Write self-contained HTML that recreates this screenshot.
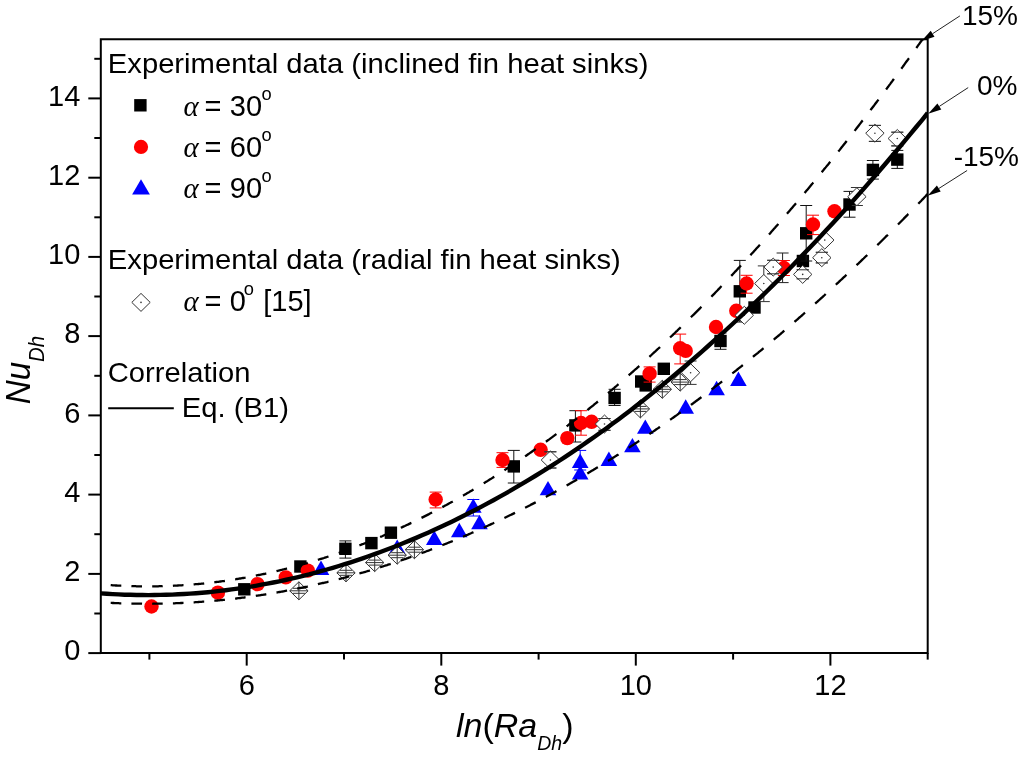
<!DOCTYPE html>
<html lang="en"><head><meta charset="utf-8"><title>Nu vs ln(Ra)</title>
<style>html,body{margin:0;padding:0;background:#fff}body{width:1024px;height:758px;overflow:hidden}</style></head>
<body>
<svg width="1024" height="758" viewBox="0 0 1024 758" style="display:block">
<rect width="1024" height="758" fill="#fff"/>
<defs><clipPath id="cp"><rect x="100.8" y="39.3" width="826.9" height="613.8"/></clipPath></defs>
<g stroke="#000" stroke-width="2" fill="none" stroke-linecap="butt">
<path d="M100.8 39.3 H927.7 V653.1 H100.8 Z"/>
<path d="M88.3 653.1 H100.8"/>
<path d="M94.3 613.5 H100.8"/>
<path d="M88.3 573.9 H100.8"/>
<path d="M94.3 534.2 H100.8"/>
<path d="M88.3 494.6 H100.8"/>
<path d="M94.3 455.0 H100.8"/>
<path d="M88.3 415.4 H100.8"/>
<path d="M94.3 375.8 H100.8"/>
<path d="M88.3 336.1 H100.8"/>
<path d="M94.3 296.5 H100.8"/>
<path d="M88.3 256.9 H100.8"/>
<path d="M94.3 217.3 H100.8"/>
<path d="M88.3 177.7 H100.8"/>
<path d="M94.3 138.0 H100.8"/>
<path d="M88.3 98.4 H100.8"/>
<path d="M94.3 58.8 H100.8"/>
<path d="M149.4 653.1 V659.6"/>
<path d="M246.7 653.1 V665.6"/>
<path d="M344.0 653.1 V659.6"/>
<path d="M441.3 653.1 V665.6"/>
<path d="M538.6 653.1 V659.6"/>
<path d="M635.8 653.1 V665.6"/>
<path d="M733.1 653.1 V659.6"/>
<path d="M830.4 653.1 V665.6"/>
<path d="M927.7 653.1 V659.6"/>
</g>
<g clip-path="url(#cp)">
<rect x="238.1" y="583.1" width="12.4" height="12.4" fill="#000"/>
<rect x="294.2" y="560.3" width="12.4" height="12.4" fill="#000"/>
<path d="M345.4 540.9 V558.1 M339.4 540.9 H351.4 M339.4 558.1 H351.4" stroke="#111" stroke-width="1" fill="none"/>
<rect x="339.2" y="542.6" width="12.4" height="12.4" fill="#000"/>
<rect x="365.2" y="536.9" width="12.4" height="12.4" fill="#000"/>
<rect x="384.7" y="526.5" width="12.4" height="12.4" fill="#000"/>
<path d="M513.8 450.4 V483.0 M507.8 450.4 H519.8 M507.8 483.0 H519.8" stroke="#111" stroke-width="1" fill="none"/>
<rect x="507.6" y="460.2" width="12.4" height="12.4" fill="#000"/>
<path d="M575.4 410.7 V442.0 M569.4 410.7 H581.4 M569.4 442.0 H581.4" stroke="#111" stroke-width="1" fill="none"/>
<rect x="569.2" y="419.2" width="12.4" height="12.4" fill="#000"/>
<path d="M614.6 389.3 V405.5 M608.6 389.3 H620.6 M608.6 405.5 H620.6" stroke="#111" stroke-width="1" fill="none"/>
<rect x="608.4" y="391.8" width="12.4" height="12.4" fill="#000"/>
<rect x="635.0" y="375.3" width="12.4" height="12.4" fill="#000"/>
<rect x="639.5" y="379.2" width="12.4" height="12.4" fill="#000"/>
<rect x="657.6" y="362.6" width="12.4" height="12.4" fill="#000"/>
<path d="M720.5 333.0 V349.3 M714.5 333.0 H726.5 M714.5 349.3 H726.5" stroke="#111" stroke-width="1" fill="none"/>
<rect x="714.3" y="334.8" width="12.4" height="12.4" fill="#000"/>
<path d="M739.8 260.4 V322.0 M733.8 260.4 H745.8 M733.8 322.0 H745.8" stroke="#111" stroke-width="1" fill="none"/>
<rect x="733.6" y="285.1" width="12.4" height="12.4" fill="#000"/>
<rect x="748.3" y="301.3" width="12.4" height="12.4" fill="#000"/>
<rect x="796.7" y="254.8" width="12.4" height="12.4" fill="#000"/>
<path d="M806.2 205.5 V261.0 M800.2 205.5 H812.2 M800.2 261.0 H812.2" stroke="#111" stroke-width="1" fill="none"/>
<rect x="800.0" y="227.1" width="12.4" height="12.4" fill="#000"/>
<path d="M849.5 191.4 V217.2 M843.5 191.4 H855.5 M843.5 217.2 H855.5" stroke="#111" stroke-width="1" fill="none"/>
<rect x="843.3" y="198.3" width="12.4" height="12.4" fill="#000"/>
<path d="M872.9 160.5 V179.1 M866.9 160.5 H878.9 M866.9 179.1 H878.9" stroke="#111" stroke-width="1" fill="none"/>
<rect x="866.7" y="163.7" width="12.4" height="12.4" fill="#000"/>
<path d="M897.3 150.4 V168.4 M891.3 150.4 H903.3 M891.3 168.4 H903.3" stroke="#111" stroke-width="1" fill="none"/>
<rect x="891.1" y="153.4" width="12.4" height="12.4" fill="#000"/>
<path d="M782.6 253.0 V282.6 M776.6 253.0 H788.6 M776.6 282.6 H788.6" stroke="#222" stroke-width="1" fill="none"/>
<circle cx="151.5" cy="606.5" r="7.2" fill="#f00"/>
<circle cx="217.9" cy="592.7" r="7.2" fill="#f00"/>
<circle cx="257.5" cy="584.1" r="7.2" fill="#f00"/>
<circle cx="285.8" cy="577.4" r="7.2" fill="#f00"/>
<circle cx="307.8" cy="570.6" r="7.2" fill="#f00"/>
<path d="M435.7 492.1 V507.9 M429.7 492.1 H441.7 M429.7 507.9 H441.7" stroke="#f00" stroke-width="1" fill="none"/>
<circle cx="435.7" cy="499.5" r="7.2" fill="#f00"/>
<path d="M502.5 452.7 V467.4 M496.5 452.7 H508.5 M496.5 467.4 H508.5" stroke="#f00" stroke-width="1" fill="none"/>
<circle cx="502.5" cy="460.0" r="7.2" fill="#f00"/>
<circle cx="540.6" cy="449.8" r="7.2" fill="#f00"/>
<circle cx="567.3" cy="438.1" r="7.2" fill="#f00"/>
<path d="M581.0 410.7 V435.2 M575.0 410.7 H587.0 M575.0 435.2 H587.0" stroke="#f00" stroke-width="1" fill="none"/>
<circle cx="581.0" cy="423.0" r="7.2" fill="#f00"/>
<circle cx="591.6" cy="421.8" r="7.2" fill="#f00"/>
<path d="M649.6 366.9 V382.1 M643.6 366.9 H655.6 M643.6 382.1 H655.6" stroke="#f00" stroke-width="1" fill="none"/>
<circle cx="649.6" cy="373.7" r="7.2" fill="#f00"/>
<path d="M680.2 334.1 V363.9 M674.2 334.1 H686.2 M674.2 363.9 H686.2" stroke="#f00" stroke-width="1" fill="none"/>
<circle cx="680.2" cy="348.3" r="7.2" fill="#f00"/>
<circle cx="685.7" cy="350.9" r="7.2" fill="#f00"/>
<circle cx="716.0" cy="327.0" r="7.2" fill="#f00"/>
<circle cx="736.3" cy="310.8" r="7.2" fill="#f00"/>
<path d="M746.6 275.3 V293.2 M740.6 275.3 H752.6 M740.6 293.2 H752.6" stroke="#f00" stroke-width="1" fill="none"/>
<circle cx="746.6" cy="283.5" r="7.2" fill="#f00"/>
<path d="M783.9 260.5 V275.5 M777.9 260.5 H789.9 M777.9 275.5 H789.9" stroke="#f00" stroke-width="1" fill="none"/>
<circle cx="783.9" cy="268.0" r="7.2" fill="#f00"/>
<path d="M813.0 215.2 V234.6 M807.0 215.2 H819.0 M807.0 234.6 H819.0" stroke="#f00" stroke-width="1" fill="none"/>
<circle cx="813.0" cy="224.5" r="7.2" fill="#f00"/>
<circle cx="834.5" cy="211.3" r="7.2" fill="#f00"/>
<path d="M321.0 560.5 L329.3 574.9 L312.7 574.9 Z" fill="#00f"/>
<path d="M397.2 539.4 L405.5 553.8 L388.9 553.8 Z" fill="#00f"/>
<path d="M434.3 530.6 L442.6 545.0 L426.0 545.0 Z" fill="#00f"/>
<path d="M459.3 522.8 L467.6 537.2 L451.0 537.2 Z" fill="#00f"/>
<path d="M473.3 499.5 V516.0 M467.3 499.5 H479.3 M467.3 516.0 H479.3" stroke="#00f" stroke-width="1" fill="none"/>
<path d="M473.3 498.4 L481.6 512.8 L465.0 512.8 Z" fill="#00f"/>
<path d="M479.5 514.8 L487.8 529.2 L471.2 529.2 Z" fill="#00f"/>
<path d="M548.0 480.9 L556.3 495.3 L539.7 495.3 Z" fill="#00f"/>
<path d="M580.2 450.4 V470.0 M574.2 450.4 H586.2 M574.2 470.0 H586.2" stroke="#00f" stroke-width="1" fill="none"/>
<path d="M580.2 453.5 L588.5 467.9 L571.9 467.9 Z" fill="#00f"/>
<path d="M580.2 465.2 L588.5 479.6 L571.9 479.6 Z" fill="#00f"/>
<path d="M608.9 451.6 L617.2 466.0 L600.6 466.0 Z" fill="#00f"/>
<path d="M632.4 437.9 L640.7 452.3 L624.1 452.3 Z" fill="#00f"/>
<path d="M645.3 419.4 L653.6 433.8 L637.0 433.8 Z" fill="#00f"/>
<path d="M685.7 399.3 L694.0 413.7 L677.4 413.7 Z" fill="#00f"/>
<path d="M716.6 380.8 L724.9 395.2 L708.3 395.2 Z" fill="#00f"/>
<path d="M738.4 371.6 L746.7 386.0 L730.1 386.0 Z" fill="#00f"/>
<path d="M298.9 581.8 L308.1 590.8 L298.9 599.8 L289.7 590.8 Z" fill="#fff" stroke="#333" stroke-width="1"/>
<path d="M298.9 581.8 V599.8 M289.9 590.8 H307.9 M292.9 588.3 H304.9 M292.9 593.3 H304.9" stroke="#333" stroke-width="1" fill="none"/>
<path d="M346.0 563.8 L355.2 572.8 L346.0 581.8 L336.8 572.8 Z" fill="#fff" stroke="#333" stroke-width="1"/>
<path d="M346.0 563.8 V581.8 M337.0 572.8 H355.0 M340.0 570.3 H352.0 M340.0 575.3 H352.0" stroke="#333" stroke-width="1" fill="none"/>
<path d="M374.7 553.6 L383.9 562.6 L374.7 571.6 L365.5 562.6 Z" fill="#fff" stroke="#333" stroke-width="1"/>
<path d="M374.7 553.6 V571.6 M365.7 562.6 H383.7 M368.7 560.1 H380.7 M368.7 565.1 H380.7" stroke="#333" stroke-width="1" fill="none"/>
<path d="M397.2 546.2 L406.4 555.2 L397.2 564.2 L388.0 555.2 Z" fill="#fff" stroke="#333" stroke-width="1"/>
<path d="M397.2 546.2 V564.2 M388.2 555.2 H406.2 M391.2 552.7 H403.2 M391.2 557.7 H403.2" stroke="#333" stroke-width="1" fill="none"/>
<path d="M414.4 540.7 L423.6 549.7 L414.4 558.7 L405.2 549.7 Z" fill="#fff" stroke="#333" stroke-width="1"/>
<path d="M414.4 540.7 V558.7 M405.4 549.7 H423.4 M408.4 547.2 H420.4 M408.4 552.2 H420.4" stroke="#333" stroke-width="1" fill="none"/>
<path d="M550.4 451.8 V468.0 M544.4 451.8 H556.4 M544.4 468.0 H556.4" stroke="#333" stroke-width="1" fill="none"/>
<path d="M550.4 451.0 L559.6 460.0 L550.4 469.0 L541.2 460.0 Z" fill="#fff" stroke="#333" stroke-width="1"/>
<path d="M544.4 451.8 H556.4 M544.4 468.0 H556.4" stroke="#333" stroke-width="1" fill="none"/>
<circle cx="550.4" cy="460.0" r="0.8" fill="#333"/>
<path d="M604.5 418.5 V430.3 M598.5 418.5 H610.5 M598.5 430.3 H610.5" stroke="#333" stroke-width="1" fill="none"/>
<path d="M604.5 415.0 L613.7 424.0 L604.5 433.0 L595.3 424.0 Z" fill="#fff" stroke="#333" stroke-width="1"/>
<path d="M598.5 418.5 H610.5 M598.5 430.3 H610.5" stroke="#333" stroke-width="1" fill="none"/>
<circle cx="604.5" cy="424.0" r="0.8" fill="#333"/>
<path d="M640.4 399.9 L649.6 408.9 L640.4 417.9 L631.2 408.9 Z" fill="#fff" stroke="#333" stroke-width="1"/>
<path d="M640.4 399.9 V417.9 M631.4 408.9 H649.4 M634.4 406.4 H646.4 M634.4 411.4 H646.4" stroke="#333" stroke-width="1" fill="none"/>
<path d="M662.3 380.3 L671.5 389.3 L662.3 398.3 L653.1 389.3 Z" fill="#fff" stroke="#333" stroke-width="1"/>
<path d="M662.3 380.3 V398.3 M653.3 389.3 H671.3 M656.3 386.8 H668.3 M656.3 391.8 H668.3" stroke="#333" stroke-width="1" fill="none"/>
<path d="M680.2 373.1 L689.4 382.1 L680.2 391.1 L671.0 382.1 Z" fill="#fff" stroke="#333" stroke-width="1"/>
<path d="M680.2 373.1 V391.1 M671.2 382.1 H689.2 M674.2 379.6 H686.2 M674.2 384.6 H686.2" stroke="#333" stroke-width="1" fill="none"/>
<path d="M690.6 361.0 V384.4 M684.6 361.0 H696.6 M684.6 384.4 H696.6" stroke="#333" stroke-width="1" fill="none"/>
<path d="M690.6 363.7 L699.8 372.7 L690.6 381.7 L681.4 372.7 Z" fill="#fff" stroke="#333" stroke-width="1"/>
<circle cx="690.6" cy="372.7" r="0.8" fill="#333"/>
<path d="M744.3 306.3 L753.5 315.3 L744.3 324.3 L735.1 315.3 Z" fill="#fff" stroke="#333" stroke-width="1"/>
<circle cx="744.3" cy="315.3" r="0.8" fill="#333"/>
<path d="M763.8 265.9 V301.6 M757.8 265.9 H769.8 M757.8 301.6 H769.8" stroke="#333" stroke-width="1" fill="none"/>
<path d="M763.8 274.5 L773.0 283.5 L763.8 292.5 L754.6 283.5 Z" fill="#fff" stroke="#333" stroke-width="1"/>
<circle cx="763.8" cy="283.5" r="0.8" fill="#333"/>
<path d="M773.2 260.3 V273.8 M767.2 260.3 H779.2 M767.2 273.8 H779.2" stroke="#333" stroke-width="1" fill="none"/>
<path d="M773.2 258.1 L782.4 267.1 L773.2 276.1 L764.0 267.1 Z" fill="#fff" stroke="#333" stroke-width="1"/>
<path d="M767.2 260.3 H779.2 M767.2 273.8 H779.2" stroke="#333" stroke-width="1" fill="none"/>
<circle cx="773.2" cy="267.1" r="0.8" fill="#333"/>
<path d="M802.7 269.8 V278.8 M796.7 269.8 H808.7 M796.7 278.8 H808.7" stroke="#333" stroke-width="1" fill="none"/>
<path d="M802.7 265.4 L811.9 274.4 L802.7 283.4 L793.5 274.4 Z" fill="#fff" stroke="#333" stroke-width="1"/>
<path d="M796.7 269.8 H808.7 M796.7 278.8 H808.7" stroke="#333" stroke-width="1" fill="none"/>
<circle cx="802.7" cy="274.4" r="0.8" fill="#333"/>
<path d="M821.8 252.3 V262.9 M815.8 252.3 H827.8 M815.8 262.9 H827.8" stroke="#333" stroke-width="1" fill="none"/>
<path d="M821.8 248.7 L831.0 257.7 L821.8 266.7 L812.6 257.7 Z" fill="#fff" stroke="#333" stroke-width="1"/>
<path d="M815.8 252.3 H827.8 M815.8 262.9 H827.8" stroke="#333" stroke-width="1" fill="none"/>
<circle cx="821.8" cy="257.7" r="0.8" fill="#333"/>
<path d="M824.8 231.1 L834.0 240.1 L824.8 249.1 L815.6 240.1 Z" fill="#fff" stroke="#333" stroke-width="1"/>
<circle cx="824.8" cy="240.1" r="0.8" fill="#333"/>
<path d="M856.9 187.5 V205.5 M850.9 187.5 H862.9 M850.9 205.5 H862.9" stroke="#333" stroke-width="1" fill="none"/>
<path d="M856.9 187.7 L866.1 196.7 L856.9 205.7 L847.7 196.7 Z" fill="#fff" stroke="#333" stroke-width="1"/>
<circle cx="856.9" cy="196.7" r="0.8" fill="#333"/>
<path d="M874.9 125.4 V141.4 M868.9 125.4 H880.9 M868.9 141.4 H880.9" stroke="#333" stroke-width="1" fill="none"/>
<path d="M874.9 124.2 L884.1 133.2 L874.9 142.2 L865.7 133.2 Z" fill="#fff" stroke="#333" stroke-width="1"/>
<path d="M868.9 125.4 H880.9 M868.9 141.4 H880.9" stroke="#333" stroke-width="1" fill="none"/>
<circle cx="874.9" cy="133.2" r="0.8" fill="#333"/>
<path d="M897.3 132.2 V145.9 M891.3 132.2 H903.3 M891.3 145.9 H903.3" stroke="#333" stroke-width="1" fill="none"/>
<path d="M897.3 129.5 L906.5 138.5 L897.3 147.5 L888.1 138.5 Z" fill="#fff" stroke="#333" stroke-width="1"/>
<path d="M891.3 132.2 H903.3 M891.3 145.9 H903.3" stroke="#333" stroke-width="1" fill="none"/>
<circle cx="897.3" cy="138.5" r="0.8" fill="#333"/>
<path d="M110.7 585.1 L111.7 585.2 L112.7 585.3 L113.7 585.3 L114.7 585.4 L115.7 585.5 L116.7 585.5 L117.7 585.6 L118.7 585.6 L119.7 585.7 L120.7 585.7 L121.3 585.7M131.4 586.1 L132.5 586.2 L133.5 586.2 L134.5 586.2 L135.5 586.2 L136.5 586.3 L137.5 586.3 L138.5 586.3 L139.5 586.3 L140.5 586.3 L141.5 586.3 L142.0 586.3M152.2 586.3 L153.2 586.3 L154.2 586.3 L155.2 586.3 L156.2 586.3 L157.2 586.3 L158.2 586.3 L159.2 586.2 L160.2 586.2 L161.2 586.2 L162.2 586.2 L162.7 586.1M172.9 585.8 L173.9 585.7 L174.9 585.7 L175.9 585.6 L176.9 585.6 L177.9 585.5 L178.9 585.4 L179.9 585.4 L180.9 585.3 L181.9 585.3 L182.9 585.2 L183.5 585.2M193.6 584.4 L194.6 584.3 L195.6 584.2 L196.6 584.1 L197.6 584.1 L198.6 584.0 L199.6 583.9 L200.6 583.8 L201.6 583.7 L202.6 583.6 L203.6 583.5 L204.2 583.4M214.3 582.3 L215.3 582.1 L216.3 582.0 L217.3 581.9 L218.3 581.8 L219.3 581.6 L220.3 581.5 L221.3 581.4 L222.3 581.2 L223.3 581.1 L224.3 581.0 L224.9 580.9M235.1 579.3 L236.1 579.2 L237.1 579.0 L238.1 578.9 L239.1 578.7 L240.1 578.5 L241.1 578.4 L242.1 578.2 L243.1 578.0 L244.1 577.8 L245.1 577.7 L245.6 577.6M255.8 575.6 L256.8 575.4 L257.8 575.2 L258.8 575.0 L259.8 574.8 L260.8 574.6 L261.8 574.4 L262.8 574.2 L263.8 574.0 L264.8 573.8 L265.8 573.6 L266.3 573.5M276.5 571.2 L277.5 570.9 L278.5 570.7 L279.5 570.4 L280.5 570.2 L281.5 570.0 L282.5 569.7 L283.5 569.5 L284.5 569.2 L285.5 569.0 L286.5 568.7 L287.1 568.6M297.2 565.9 L298.2 565.6 L299.2 565.3 L300.2 565.1 L301.2 564.8 L302.2 564.5 L303.2 564.2 L304.2 563.9 L305.2 563.7 L306.2 563.4 L307.2 563.1 L307.8 562.9M317.9 559.9 L318.9 559.5 L319.9 559.2 L320.9 558.9 L321.9 558.6 L322.9 558.3 L323.9 558.0 L324.9 557.6 L325.9 557.3 L326.9 557.0 L327.9 556.7 L328.5 556.5M338.7 553.0 L339.7 552.7 L340.7 552.3 L341.7 552.0 L342.7 551.6 L343.7 551.2 L344.7 550.9 L345.7 550.5 L346.7 550.2 L347.7 549.8 L348.7 549.4 L349.2 549.2M359.4 545.4 L360.4 545.0 L361.4 544.6 L362.4 544.2 L363.4 543.9 L364.4 543.5 L365.4 543.1 L366.4 542.7 L367.4 542.3 L368.4 541.9 L369.4 541.5 L369.9 541.2M380.1 537.0 L381.1 536.6 L382.1 536.2 L383.1 535.7 L384.1 535.3 L385.1 534.9 L386.1 534.4 L387.1 534.0 L388.1 533.6 L389.1 533.1 L390.1 532.7 L390.7 532.4M400.8 527.8 L401.8 527.4 L402.8 526.9 L403.8 526.4 L404.8 526.0 L405.8 525.5 L406.8 525.0 L407.8 524.6 L408.8 524.1 L409.8 523.6 L410.8 523.1 L411.4 522.9M421.5 517.9 L422.5 517.4 L423.5 516.9 L424.5 516.4 L425.5 515.9 L426.5 515.4 L427.5 514.9 L428.5 514.4 L429.5 513.8 L430.5 513.3 L431.5 512.8 L432.1 512.5M442.3 507.1 L443.3 506.6 L444.3 506.1 L445.3 505.5 L446.3 505.0 L447.3 504.4 L448.3 503.9 L449.3 503.3 L450.3 502.8 L451.3 502.2 L452.3 501.7 L452.8 501.4M463.0 495.6 L464.0 495.1 L465.0 494.5 L466.0 493.9 L467.0 493.3 L468.0 492.7 L469.0 492.2 L470.0 491.6 L471.0 491.0 L472.0 490.4 L473.0 489.8 L473.5 489.5M483.7 483.3 L484.7 482.7 L485.7 482.1 L486.7 481.5 L487.7 480.9 L488.7 480.2 L489.7 479.6 L490.7 479.0 L491.7 478.4 L492.7 477.7 L493.7 477.1 L494.3 476.8M504.4 470.3 L505.4 469.6 L506.4 468.9 L507.4 468.3 L508.4 467.6 L509.4 467.0 L510.4 466.3 L511.4 465.7 L512.4 465.0 L513.4 464.3 L514.4 463.7 L515.0 463.3M525.1 456.4 L526.1 455.7 L527.1 455.0 L528.1 454.3 L529.1 453.6 L530.1 452.9 L531.1 452.2 L532.1 451.5 L533.1 450.8 L534.1 450.1 L535.1 449.4 L535.7 449.0M545.9 441.7 L546.9 441.0 L547.9 440.3 L548.9 439.6 L549.9 438.8 L550.9 438.1 L551.9 437.4 L552.9 436.6 L553.9 435.9 L554.9 435.1 L555.9 434.4 L556.4 434.0M566.6 426.3 L567.6 425.6 L568.6 424.8 L569.6 424.0 L570.6 423.3 L571.6 422.5 L572.6 421.7 L573.6 420.9 L574.6 420.2 L575.6 419.4 L576.6 418.6 L577.1 418.2M587.3 410.1 L588.3 409.3 L589.3 408.5 L590.3 407.7 L591.3 406.9 L592.3 406.1 L593.3 405.3 L594.3 404.4 L595.3 403.6 L596.3 402.8 L597.3 402.0 L597.9 401.5M608.0 393.1 L609.0 392.3 L610.0 391.4 L611.0 390.6 L612.0 389.8 L613.0 388.9 L614.0 388.1 L615.0 387.2 L616.0 386.4 L617.0 385.5 L618.0 384.6 L618.5 384.2M628.7 375.3 L629.7 374.4 L630.7 373.6 L631.7 372.7 L632.7 371.8 L633.7 370.9 L634.7 370.0 L635.7 369.1 L636.7 368.3 L637.7 367.4 L638.7 366.5 L639.3 366.0M649.4 356.8 L650.4 355.9 L651.4 355.0 L652.4 354.0 L653.4 353.1 L654.4 352.2 L655.4 351.3 L656.4 350.3 L657.4 349.4 L658.4 348.5 L659.4 347.6 L660.0 347.0M670.1 337.5 L671.1 336.5 L672.1 335.6 L673.1 334.6 L674.1 333.7 L675.1 332.7 L676.1 331.7 L677.1 330.8 L678.1 329.8 L679.1 328.8 L680.1 327.9 L680.7 327.3M690.9 317.3 L691.9 316.3 L692.9 315.3 L693.9 314.4 L694.9 313.4 L695.9 312.4 L696.9 311.4 L697.9 310.4 L698.9 309.4 L699.9 308.4 L700.9 307.3 L701.4 306.8M711.4 296.7 L712.4 295.6 L713.4 294.6 L714.4 293.6 L715.4 292.5 L716.4 291.5 L717.4 290.5 L718.4 289.4 L719.4 288.4 L720.4 287.3 L721.4 286.3 L721.6 286.1M731.2 275.9 L732.2 274.9 L733.2 273.8 L734.2 272.7 L735.2 271.6 L736.2 270.6 L737.2 269.5 L738.2 268.4 L739.2 267.4 L740.2 266.3 L741.0 265.4M750.4 255.2 L751.4 254.1 L752.4 253.0 L753.4 251.9 L754.4 250.8 L755.4 249.7 L756.4 248.6 L757.4 247.5 L758.4 246.4 L759.4 245.3 L759.9 244.7M769.0 234.5 L770.0 233.4 L771.0 232.2 L772.0 231.1 L773.0 229.9 L774.0 228.8 L775.0 227.7 L776.0 226.5 L777.0 225.4 L778.0 224.2 L778.2 223.9M787.0 213.8 L788.0 212.6 L789.0 211.4 L790.0 210.3 L791.0 209.1 L792.0 207.9 L793.0 206.7 L794.0 205.6 L795.0 204.4 L796.0 203.3M804.6 193.0 L805.6 191.8 L806.6 190.6 L807.6 189.4 L808.6 188.2 L809.6 187.0 L810.6 185.8 L811.6 184.6 L812.6 183.4 L813.3 182.5M821.7 172.3 L822.7 171.1 L823.7 169.8 L824.7 168.6 L825.7 167.4 L826.7 166.1 L827.7 164.9 L828.7 163.7 L829.7 162.4 L830.2 161.8M838.3 151.6 L839.3 150.4 L840.3 149.1 L841.3 147.8 L842.3 146.6 L843.3 145.3 L844.3 144.0 L845.3 142.8 L846.3 141.5 L846.7 141.0M854.6 130.9 L855.6 129.6 L856.6 128.3 L857.6 127.0 L858.6 125.7 L859.6 124.4 L860.6 123.1 L861.6 121.8 L862.6 120.5 L862.7 120.4M870.5 110.2 L871.5 108.8 L872.5 107.5 L873.5 106.2 L874.5 104.9 L875.5 103.5 L876.5 102.2 L877.5 100.9 L878.5 99.6M886.1 89.5 L887.1 88.1 L888.1 86.8 L889.1 85.4 L890.1 84.1 L891.1 82.7 L892.1 81.4 L893.1 80.0 L893.9 78.9M901.3 68.7 L902.3 67.4 L903.3 66.0 L904.3 64.6 L905.3 63.2 L906.3 61.8 L907.3 60.5 L908.3 59.1 L909.0 58.2M916.3 48.0 L917.3 46.6 L918.3 45.2 L919.3 43.8 L920.3 42.4 L921.3 41.0 L922.3 39.6 L923.3 38.2 L923.8 37.5" stroke="#000" stroke-width="2.3" fill="none"/>
<path d="M110.7 602.9 L111.7 602.9 L112.7 603.0 L113.7 603.0 L114.7 603.1 L115.7 603.1 L116.7 603.1 L117.7 603.2 L118.7 603.2 L119.7 603.3 L120.7 603.3 L121.3 603.3M131.4 603.6 L132.5 603.6 L133.5 603.6 L134.5 603.7 L135.5 603.7 L136.5 603.7 L137.5 603.7 L138.5 603.7 L139.5 603.7 L140.5 603.7 L141.5 603.7 L142.0 603.8M152.2 603.8 L153.2 603.7 L154.2 603.7 L155.2 603.7 L156.2 603.7 L157.2 603.7 L158.2 603.7 L159.2 603.7 L160.2 603.7 L161.2 603.6 L162.2 603.6 L162.7 603.6M172.9 603.3 L173.9 603.3 L174.9 603.3 L175.9 603.2 L176.9 603.2 L177.9 603.1 L178.9 603.1 L179.9 603.1 L180.9 603.0 L181.9 603.0 L182.9 602.9 L183.5 602.9M193.6 602.3 L194.6 602.3 L195.6 602.2 L196.6 602.1 L197.6 602.1 L198.6 602.0 L199.6 601.9 L200.6 601.9 L201.6 601.8 L202.6 601.7 L203.6 601.6 L204.2 601.6M214.3 600.7 L215.3 600.7 L216.3 600.6 L217.3 600.5 L218.3 600.4 L219.3 600.3 L220.3 600.2 L221.3 600.1 L222.3 600.0 L223.3 599.9 L224.3 599.8 L224.9 599.7M235.1 598.6 L236.1 598.5 L237.1 598.3 L238.1 598.2 L239.1 598.1 L240.1 598.0 L241.1 597.9 L242.1 597.7 L243.1 597.6 L244.1 597.5 L245.1 597.3 L245.6 597.3M255.8 595.9 L256.8 595.7 L257.8 595.6 L258.8 595.4 L259.8 595.3 L260.8 595.1 L261.8 594.9 L262.8 594.8 L263.8 594.6 L264.8 594.5 L265.8 594.3 L266.3 594.2M276.5 592.5 L277.5 592.4 L278.5 592.2 L279.5 592.0 L280.5 591.8 L281.5 591.6 L282.5 591.5 L283.5 591.3 L284.5 591.1 L285.5 590.9 L286.5 590.7 L287.1 590.6M297.2 588.6 L298.2 588.4 L299.2 588.2 L300.2 588.0 L301.2 587.8 L302.2 587.6 L303.2 587.4 L304.2 587.2 L305.2 587.0 L306.2 586.8 L307.2 586.6 L307.8 586.4M317.9 584.2 L318.9 583.9 L319.9 583.7 L320.9 583.5 L321.9 583.2 L322.9 583.0 L323.9 582.8 L324.9 582.5 L325.9 582.3 L326.9 582.1 L327.9 581.8 L328.5 581.7M338.7 579.1 L339.7 578.9 L340.7 578.6 L341.7 578.3 L342.7 578.1 L343.7 577.8 L344.7 577.6 L345.7 577.3 L346.7 577.0 L347.7 576.8 L348.7 576.5 L349.2 576.3M359.4 573.5 L360.4 573.2 L361.4 572.9 L362.4 572.6 L363.4 572.4 L364.4 572.1 L365.4 571.8 L366.4 571.5 L367.4 571.2 L368.4 570.9 L369.4 570.6 L369.9 570.4M380.1 567.3 L381.1 567.0 L382.1 566.7 L383.1 566.3 L384.1 566.0 L385.1 565.7 L386.1 565.4 L387.1 565.1 L388.1 564.7 L389.1 564.4 L390.1 564.1 L390.7 563.9M400.8 560.5 L401.8 560.2 L402.8 559.8 L403.8 559.5 L404.8 559.1 L405.8 558.8 L406.8 558.4 L407.8 558.1 L408.8 557.7 L409.8 557.4 L410.8 557.0 L411.4 556.8M421.5 553.2 L422.5 552.8 L423.5 552.4 L424.5 552.1 L425.5 551.7 L426.5 551.3 L427.5 550.9 L428.5 550.6 L429.5 550.2 L430.5 549.8 L431.5 549.4 L432.1 549.2M442.3 545.2 L443.3 544.8 L444.3 544.4 L445.3 544.0 L446.3 543.6 L447.3 543.2 L448.3 542.8 L449.3 542.4 L450.3 542.0 L451.3 541.6 L452.3 541.2 L452.8 541.0M463.0 536.7 L464.0 536.3 L465.0 535.9 L466.0 535.4 L467.0 535.0 L468.0 534.6 L469.0 534.1 L470.0 533.7 L471.0 533.3 L472.0 532.8 L473.0 532.4 L473.5 532.2M483.7 527.6 L484.7 527.2 L485.7 526.7 L486.7 526.2 L487.7 525.8 L488.7 525.3 L489.7 524.9 L490.7 524.4 L491.7 523.9 L492.7 523.5 L493.7 523.0 L494.3 522.8M504.4 518.0 L505.4 517.5 L506.4 517.0 L507.4 516.5 L508.4 516.0 L509.4 515.5 L510.4 515.0 L511.4 514.6 L512.4 514.1 L513.4 513.6 L514.4 513.1 L515.0 512.8M525.1 507.7 L526.1 507.2 L527.1 506.7 L528.1 506.2 L529.1 505.7 L530.1 505.2 L531.1 504.6 L532.1 504.1 L533.1 503.6 L534.1 503.1 L535.1 502.6 L535.7 502.3M545.9 496.9 L546.9 496.3 L547.9 495.8 L548.9 495.3 L549.9 494.7 L550.9 494.2 L551.9 493.6 L552.9 493.1 L553.9 492.5 L554.9 492.0 L555.9 491.4 L556.4 491.1M566.6 485.5 L567.6 484.9 L568.6 484.4 L569.6 483.8 L570.6 483.2 L571.6 482.6 L572.6 482.1 L573.6 481.5 L574.6 480.9 L575.6 480.4 L576.6 479.8 L577.1 479.5M587.3 473.5 L588.3 472.9 L589.3 472.3 L590.3 471.7 L591.3 471.1 L592.3 470.5 L593.3 469.9 L594.3 469.3 L595.3 468.7 L596.3 468.1 L597.3 467.5 L597.9 467.2M608.0 460.9 L609.0 460.3 L610.0 459.7 L611.0 459.1 L612.0 458.5 L613.0 457.8 L614.0 457.2 L615.0 456.6 L616.0 455.9 L617.0 455.3 L618.0 454.7 L618.5 454.3M628.7 447.8 L629.7 447.1 L630.7 446.5 L631.7 445.8 L632.7 445.2 L633.7 444.5 L634.7 443.9 L635.7 443.2 L636.7 442.6 L637.7 441.9 L638.7 441.2 L639.3 440.9M649.4 434.1 L650.4 433.4 L651.4 432.7 L652.4 432.1 L653.4 431.4 L654.4 430.7 L655.4 430.0 L656.4 429.3 L657.4 428.6 L658.4 428.0 L659.4 427.3 L660.0 426.9M670.1 419.8 L671.1 419.1 L672.1 418.4 L673.1 417.7 L674.1 417.0 L675.1 416.3 L676.1 415.6 L677.1 414.9 L678.1 414.1 L679.1 413.4 L680.1 412.7 L680.7 412.3M690.9 404.9 L691.9 404.2 L692.9 403.5 L693.9 402.7 L694.9 402.0 L695.9 401.2 L696.9 400.5 L697.9 399.8 L698.9 399.0 L699.9 398.3 L700.9 397.5 L701.4 397.1M711.6 389.5 L712.6 388.7 L713.6 388.0 L714.6 387.2 L715.6 386.4 L716.6 385.7 L717.6 384.9 L718.6 384.1 L719.6 383.4 L720.6 382.6 L721.6 381.8 L722.1 381.4M732.3 373.4 L733.3 372.7 L734.3 371.9 L735.3 371.1 L736.3 370.3 L737.3 369.5 L738.3 368.7 L739.3 367.9 L740.3 367.1 L741.3 366.3 L742.3 365.5 L742.9 365.1M753.0 356.9 L754.0 356.0 L755.0 355.2 L756.0 354.4 L757.0 353.6 L758.0 352.8 L759.0 351.9 L760.0 351.1 L761.0 350.3 L762.0 349.5 L763.0 348.6 L763.6 348.2M773.7 339.7 L774.7 338.9 L775.7 338.0 L776.7 337.2 L777.7 336.3 L778.7 335.5 L779.7 334.6 L780.7 333.8 L781.7 332.9 L782.7 332.1 L783.7 331.2 L784.3 330.7M794.5 321.9 L795.5 321.0 L796.5 320.2 L797.5 319.3 L798.5 318.4 L799.5 317.5 L800.5 316.7 L801.5 315.8 L802.5 314.9 L803.5 314.0 L804.5 313.1 L805.0 312.7M815.2 303.6 L816.2 302.7 L817.2 301.8 L818.2 300.9 L819.2 300.0 L820.2 299.1 L821.2 298.2 L822.2 297.3 L823.2 296.4 L824.2 295.5 L825.2 294.5 L825.7 294.0M835.9 284.7 L836.9 283.7 L837.9 282.8 L838.9 281.9 L839.9 280.9 L840.9 280.0 L841.9 279.1 L842.9 278.1 L843.9 277.2 L844.9 276.3 L845.9 275.3 L846.5 274.8M856.6 265.2 L857.6 264.2 L858.6 263.3 L859.6 262.3 L860.6 261.4 L861.6 260.4 L862.6 259.4 L863.6 258.5 L864.6 257.5 L865.6 256.5 L866.6 255.6 L867.2 255.0M877.3 245.1 L878.3 244.2 L879.3 243.2 L880.3 242.2 L881.3 241.2 L882.3 240.2 L883.3 239.2 L884.3 238.2 L885.3 237.2 L886.3 236.2 L887.3 235.3 L887.9 234.7M898.0 224.5 L899.0 223.5 L900.0 222.5 L901.0 221.5 L902.0 220.5 L903.0 219.5 L904.0 218.4 L905.0 217.4 L906.0 216.4 L907.0 215.4 L908.0 214.3 L908.4 214.0M918.3 203.8 L919.3 202.7 L920.3 201.7 L921.3 200.7 L922.3 199.6 L923.3 198.6 L924.3 197.5 L925.3 196.5 L926.3 195.4 L927.3 194.4 L927.7 194.0" stroke="#000" stroke-width="2.3" fill="none"/>
<path d="M100.8 593.4 L106.7 593.8 L112.7 594.1 L118.6 594.4 L124.6 594.7 L130.5 594.8 L136.5 595.0 L142.4 595.0 L148.4 595.1 L154.3 595.0 L160.3 594.9 L166.2 594.8 L172.2 594.6 L178.1 594.3 L184.1 594.0 L190.0 593.6 L196.0 593.2 L201.9 592.7 L207.9 592.2 L213.8 591.6 L219.8 590.9 L225.7 590.2 L231.7 589.4 L237.6 588.6 L243.6 587.7 L249.5 586.8 L255.5 585.8 L261.4 584.7 L267.4 583.6 L273.3 582.5 L279.3 581.3 L285.2 580.0 L291.2 578.7 L297.1 577.3 L303.1 575.8 L309.0 574.4 L315.0 572.8 L320.9 571.2 L326.9 569.5 L332.8 567.8 L338.8 566.0 L344.7 564.2 L350.7 562.3 L356.6 560.4 L362.6 558.4 L368.5 556.3 L374.5 554.2 L380.4 552.0 L386.3 549.8 L392.3 547.5 L398.2 545.2 L404.2 542.8 L410.1 540.4 L416.1 537.9 L422.0 535.3 L428.0 532.7 L433.9 530.0 L439.9 527.3 L445.8 524.5 L451.8 521.7 L457.7 518.8 L463.7 515.8 L469.6 512.8 L475.6 509.7 L481.5 506.6 L487.5 503.4 L493.4 500.2 L499.4 496.9 L505.3 493.6 L511.3 490.2 L517.2 486.7 L523.2 483.2 L529.1 479.6 L535.1 476.0 L541.0 472.3 L547.0 468.6 L552.9 464.8 L558.9 461.0 L564.8 457.1 L570.8 453.1 L576.7 449.1 L582.7 445.0 L588.6 440.9 L594.6 436.7 L600.5 432.5 L606.5 428.2 L612.4 423.8 L618.4 419.4 L624.3 414.9 L630.3 410.4 L636.2 405.8 L642.2 401.2 L648.1 396.5 L654.0 391.8 L660.0 387.0 L665.9 382.1 L671.9 377.2 L677.8 372.2 L683.8 367.2 L689.7 362.1 L695.7 357.0 L701.6 351.8 L707.6 346.5 L713.5 341.2 L719.5 335.9 L725.4 330.5 L731.4 325.0 L737.3 319.5 L743.3 313.9 L749.2 308.2 L755.2 302.5 L761.1 296.8 L767.1 291.0 L773.0 285.1 L779.0 279.2 L784.9 273.2 L790.9 267.2 L796.8 261.1 L802.8 254.9 L808.7 248.7 L814.7 242.5 L820.6 236.2 L826.6 229.8 L832.5 223.4 L838.5 216.9 L844.4 210.4 L850.4 203.8 L856.3 197.1 L862.3 190.4 L868.2 183.6 L874.2 176.8 L880.1 170.0 L886.1 163.0 L892.0 156.0 L898.0 149.0 L903.9 141.9 L909.9 134.7 L915.8 127.5 L921.8 120.3 L927.7 113.0" stroke="#000" stroke-width="4.4" fill="none"/>
</g>
<path d="M959.9 15.9 L932.6 33.7" stroke="#222" stroke-width="1" fill="none"/><path d="M921.5 41.0 L930.7 30.8 L934.5 36.7 Z" fill="#000"/>
<path d="M968.2 87.6 L939.3 106.4" stroke="#222" stroke-width="1" fill="none"/><path d="M928.2 113.7 L937.4 103.5 L941.3 109.4 Z" fill="#000"/>
<path d="M967.1 170.5 L938.8 188.5" stroke="#222" stroke-width="1" fill="none"/><path d="M927.6 195.7 L936.9 185.6 L940.7 191.5 Z" fill="#000"/>
<g font-family="'Liberation Sans', Arial, sans-serif" font-size="29" fill="#000">
<text x="80.3" y="660.3" text-anchor="end">0</text>
<text x="80.3" y="581.1" text-anchor="end">2</text>
<text x="80.3" y="501.8" text-anchor="end">4</text>
<text x="80.3" y="422.6" text-anchor="end">6</text>
<text x="80.3" y="343.3" text-anchor="end">8</text>
<text x="80.3" y="264.1" text-anchor="end">10</text>
<text x="80.3" y="184.9" text-anchor="end">12</text>
<text x="80.3" y="105.6" text-anchor="end">14</text>
<text x="246.7" y="694.5" text-anchor="middle">6</text>
<text x="441.3" y="694.5" text-anchor="middle">8</text>
<text x="635.8" y="694.5" text-anchor="middle">10</text>
<text x="830.4" y="694.5" text-anchor="middle">12</text>
<text x="1018" y="25" text-anchor="end" font-size="28">15%</text>
<text x="1017.5" y="94.8" text-anchor="end" font-size="28">0%</text>
<text x="1019" y="166" text-anchor="end" font-size="28">-15%</text>
<text transform="translate(107.8,72.9) scale(1.036,1)" font-size="28.2">Experimental data (inclined fin heat sinks)</text>
<text transform="translate(107.8,269.1) scale(1.036,1)" font-size="28.2">Experimental data (radial fin heat sinks)</text>
<text transform="translate(107.8,382.1) scale(1.035,1)" font-size="28.2">Correlation</text>
<text transform="translate(181.8,417.2) scale(1.03,1)" font-size="28.4">Eq. (B1)</text>
<text x="183.5" y="115.6" font-family="'Liberation Serif', serif" font-style="italic" font-size="29">α</text><text x="204.6" y="115.6">=</text><text x="229.8" y="115.6">30</text><text x="261.6" y="99.6" font-size="18.3">o</text>
<text x="183.5" y="156.9" font-family="'Liberation Serif', serif" font-style="italic" font-size="29">α</text><text x="204.6" y="156.9">=</text><text x="229.8" y="156.9">60</text><text x="261.6" y="140.9" font-size="18.3">o</text>
<text x="183.5" y="197.9" font-family="'Liberation Serif', serif" font-style="italic" font-size="29">α</text><text x="204.6" y="197.9">=</text><text x="229.8" y="197.9">90</text><text x="261.6" y="181.9" font-size="18.3">o</text>
<text x="183.5" y="310.6" font-family="'Liberation Serif', serif" font-style="italic" font-size="29">α</text><text x="204.6" y="310.6">=</text><text x="229.8" y="310.6">0</text><text x="243.8" y="294.6" font-size="18.3">o</text><text x="263.3" y="310.6">[15]</text>
</g>
<rect x="134.2" y="99.1" width="12.4" height="12.4" fill="#000"/>
<circle cx="141" cy="146.9" r="7.1" fill="#f00"/>
<path d="M141 179.2 L149.9 194.5 L132.1 194.5 Z" fill="#00f"/>
<path d="M141.0 293.4 L150.2 302.4 L141.0 311.4 L131.8 302.4 Z" fill="#fff" stroke="#333" stroke-width="1"/>
<circle cx="141.0" cy="302.4" r="0.8" fill="#333"/>
<path d="M108.2 408.3 H173.8" stroke="#000" stroke-width="2"/>
<g font-family="'Liberation Sans', Arial, sans-serif" font-size="34" fill="#000">
<text x="456" y="736.6"><tspan font-style="italic">ln</tspan>(<tspan font-style="italic">Ra</tspan><tspan font-style="italic" font-size="19.5" dy="13">Dh</tspan><tspan dy="-13">)</tspan></text>
<text transform="translate(30,404.2) rotate(-90) scale(0.945,1)" font-size="35"><tspan font-style="italic">Nu</tspan><tspan font-style="italic" font-size="21.6" dy="14.4">Dh</tspan></text>
</g>
</svg>
</body></html>
